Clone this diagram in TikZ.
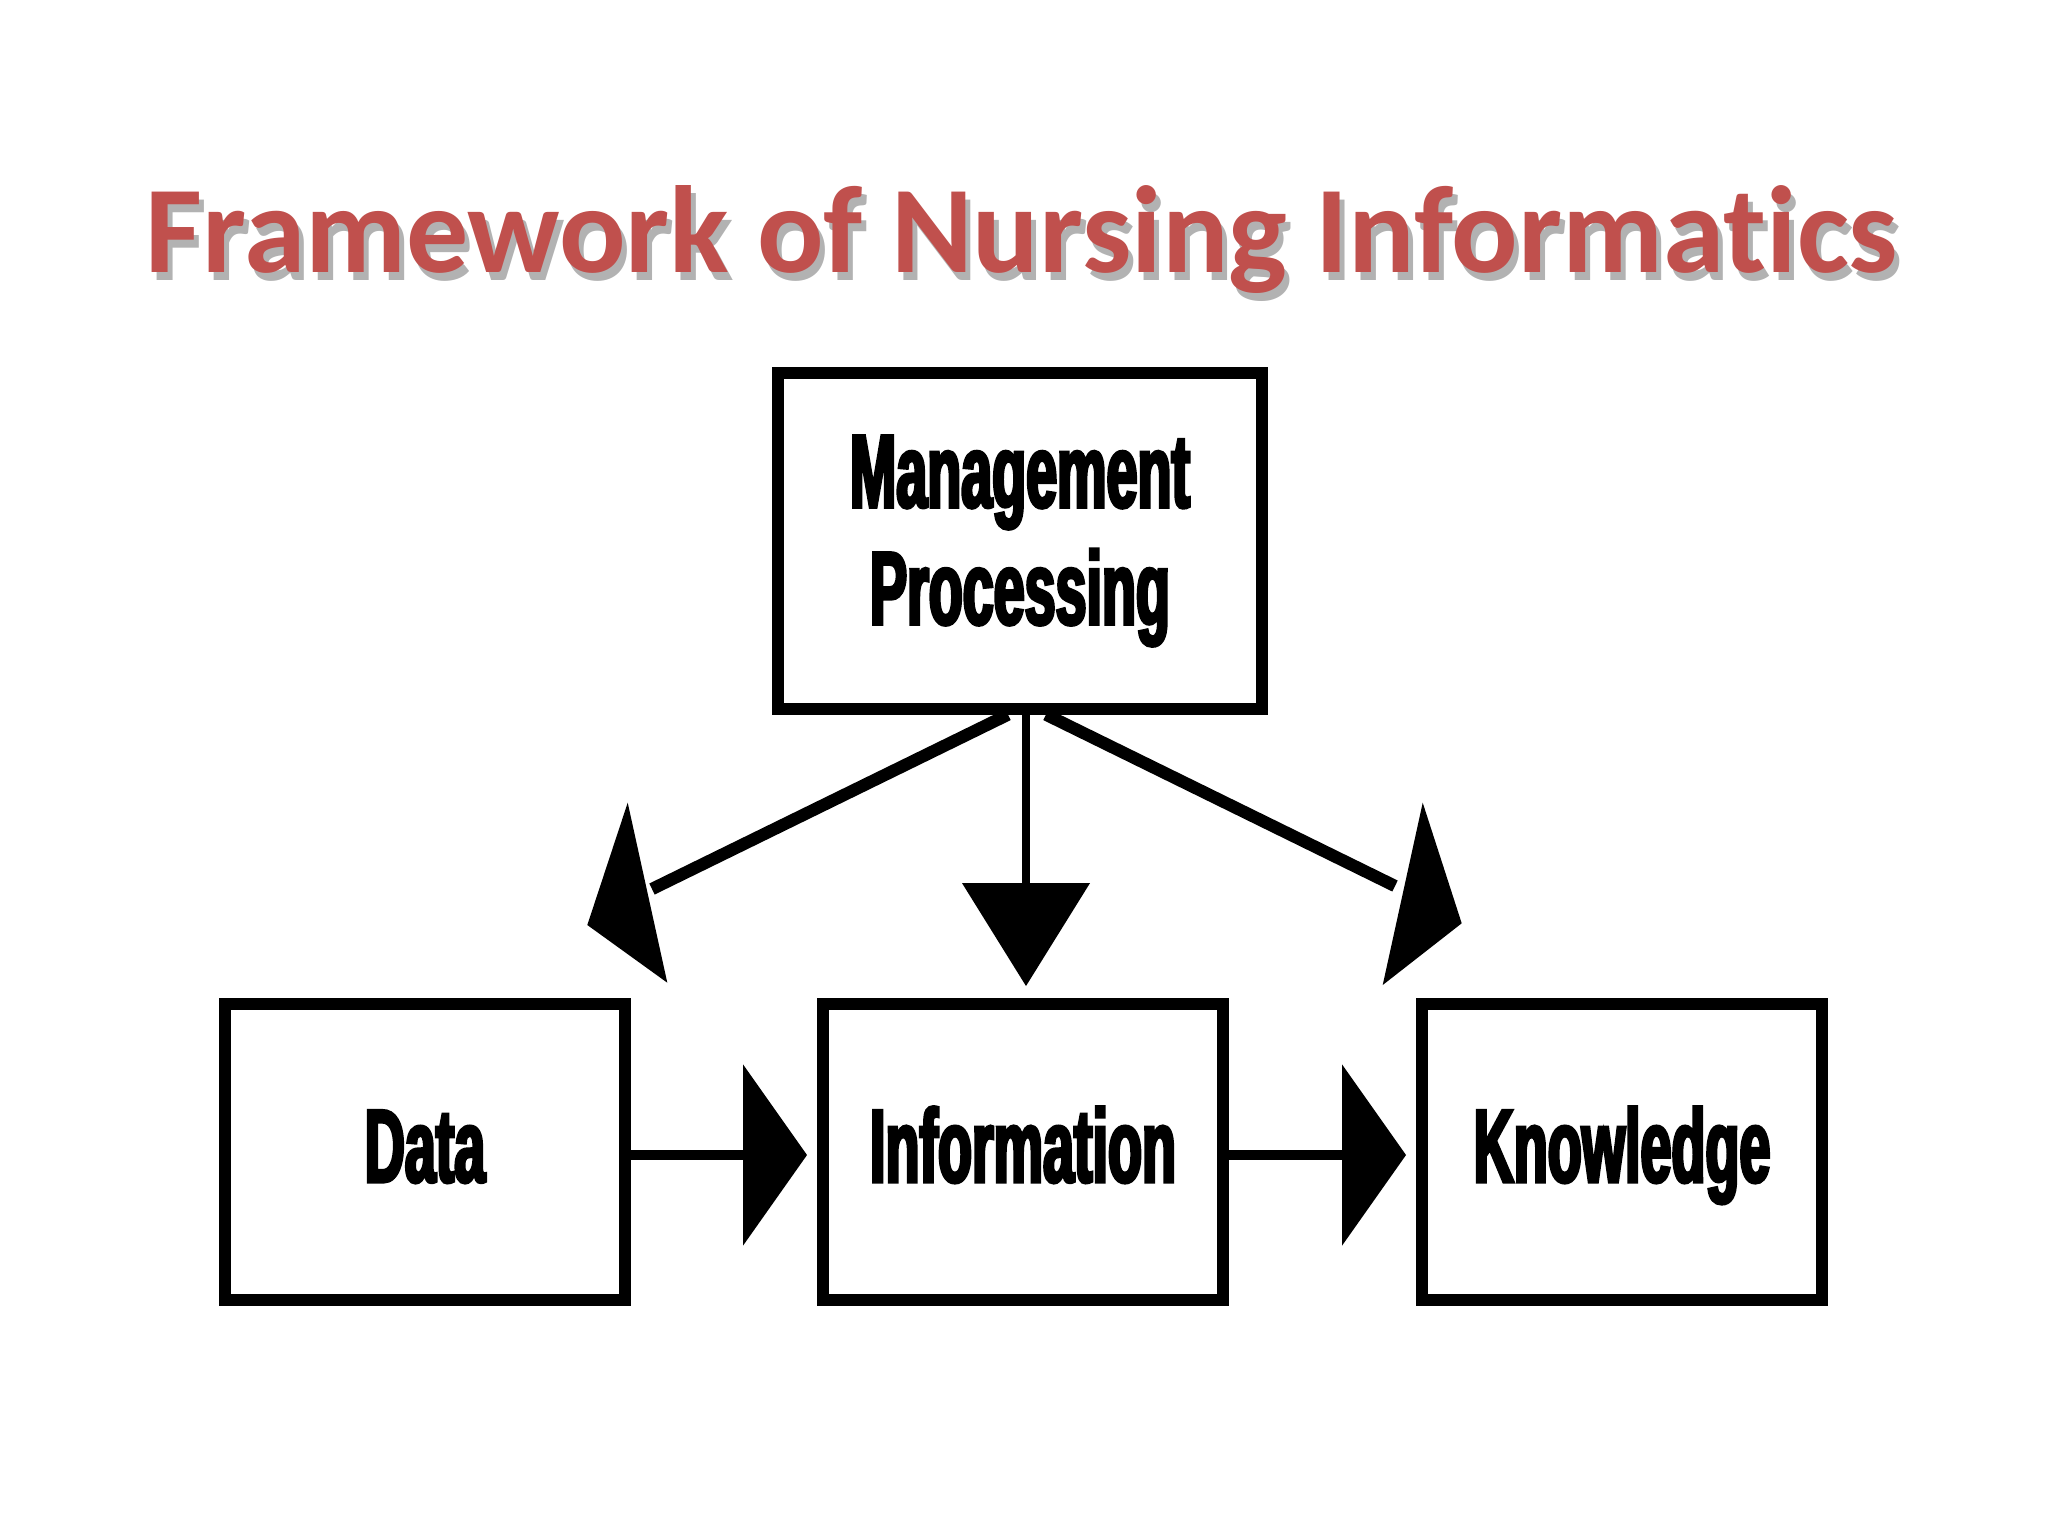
\documentclass[tikz,border=0pt]{standalone}
\usepackage{fontspec}
\usetikzlibrary{arrows.meta,calc}
\newfontfamily\titlefont{Carlito}[Ligatures=NoCommon,RawFeature={-liga;-dlig}]
\newfontfamily\boxfont{Liberation Sans}[FakeStretch=0.535,BoldFeatures={FakeBold=3}]
\definecolor{titlered}{RGB}{192,80,77}
\begin{document}
\begin{tikzpicture}[x=0.375pt,y=-0.375pt,
  titlestyle/.style={anchor=base, inner sep=0pt, font=\titlefont\bfseries\fontsize{46.5pt}{50pt}\selectfont},
  boxbase/.style={draw=black, line width=4.5pt, fill=white, inner sep=0pt,
    font=\boxfont\bfseries\fontsize{39pt}{43.9pt}\selectfont},
  box/.style={boxbase, minimum width=150pt, minimum height=111pt, text height=22.5pt, text depth=0pt},
  topbox/.style={boxbase, minimum width=181.2pt, minimum height=125.7pt, align=center},
  harrow/.style={draw=black, line width=4pt, -{Triangle[length=24pt 0 0, width=68pt 0 0, line width=0pt]}},
  varrow/.style={draw=black, line width=3pt, -{Triangle[length=38.6pt 0 0, width=48pt 0 0, line width=0pt]}},
  dline/.style={draw=black, line width=4.6pt},
  headfill/.style={fill=black}
]
\useasboundingbox (0,0) rectangle (2048,1536);
\fill[white] (0,0) rectangle (2048,1536);

% title with soft shadow
\node[titlestyle, text=black, opacity=0.3] (titleshadow) at (1027,280) {Framework of Nursing Informatics};
\node[titlestyle, text=titlered] (title) at (1022,272) {Framework of Nursing Informatics};

% boxes
\node[topbox] (mp) at (1020,541) {Management\\Processing};
\node[box] (data) at (425,1152) {Data};
\node[box] (info) at (1023,1152) {Information};
\node[box] (know) at (1622,1152) {Knowledge};

% horizontal connectors
\draw[harrow] ($(data.east)+(0,3)$) -- ($(info.west)+(-10,3)$);
\draw[harrow] ($(info.east)+(0,3)$) -- ($(know.west)+(-10,3)$);

% vertical connector
\draw[varrow] ($(mp.south)+(6,0)$) -- ($(info.north)+(3,-12)$);

% diagonal connectors
\coordinate (lhead) at (652,889);
\coordinate (rhead) at (1395,886);
\draw[dline] ($(mp.south)+(-12,0)$) -- (lhead);
\draw[dline] ($(mp.south)+(26,0)$) -- (rhead);
\fill[headfill] (627.7,802.7) -- (587.3,925) -- (667.3,982.7) -- cycle;
\fill[headfill] (1422.7,802.7) -- (1461.7,923.3) -- (1382.7,985) -- cycle;
\end{tikzpicture}
\end{document}
